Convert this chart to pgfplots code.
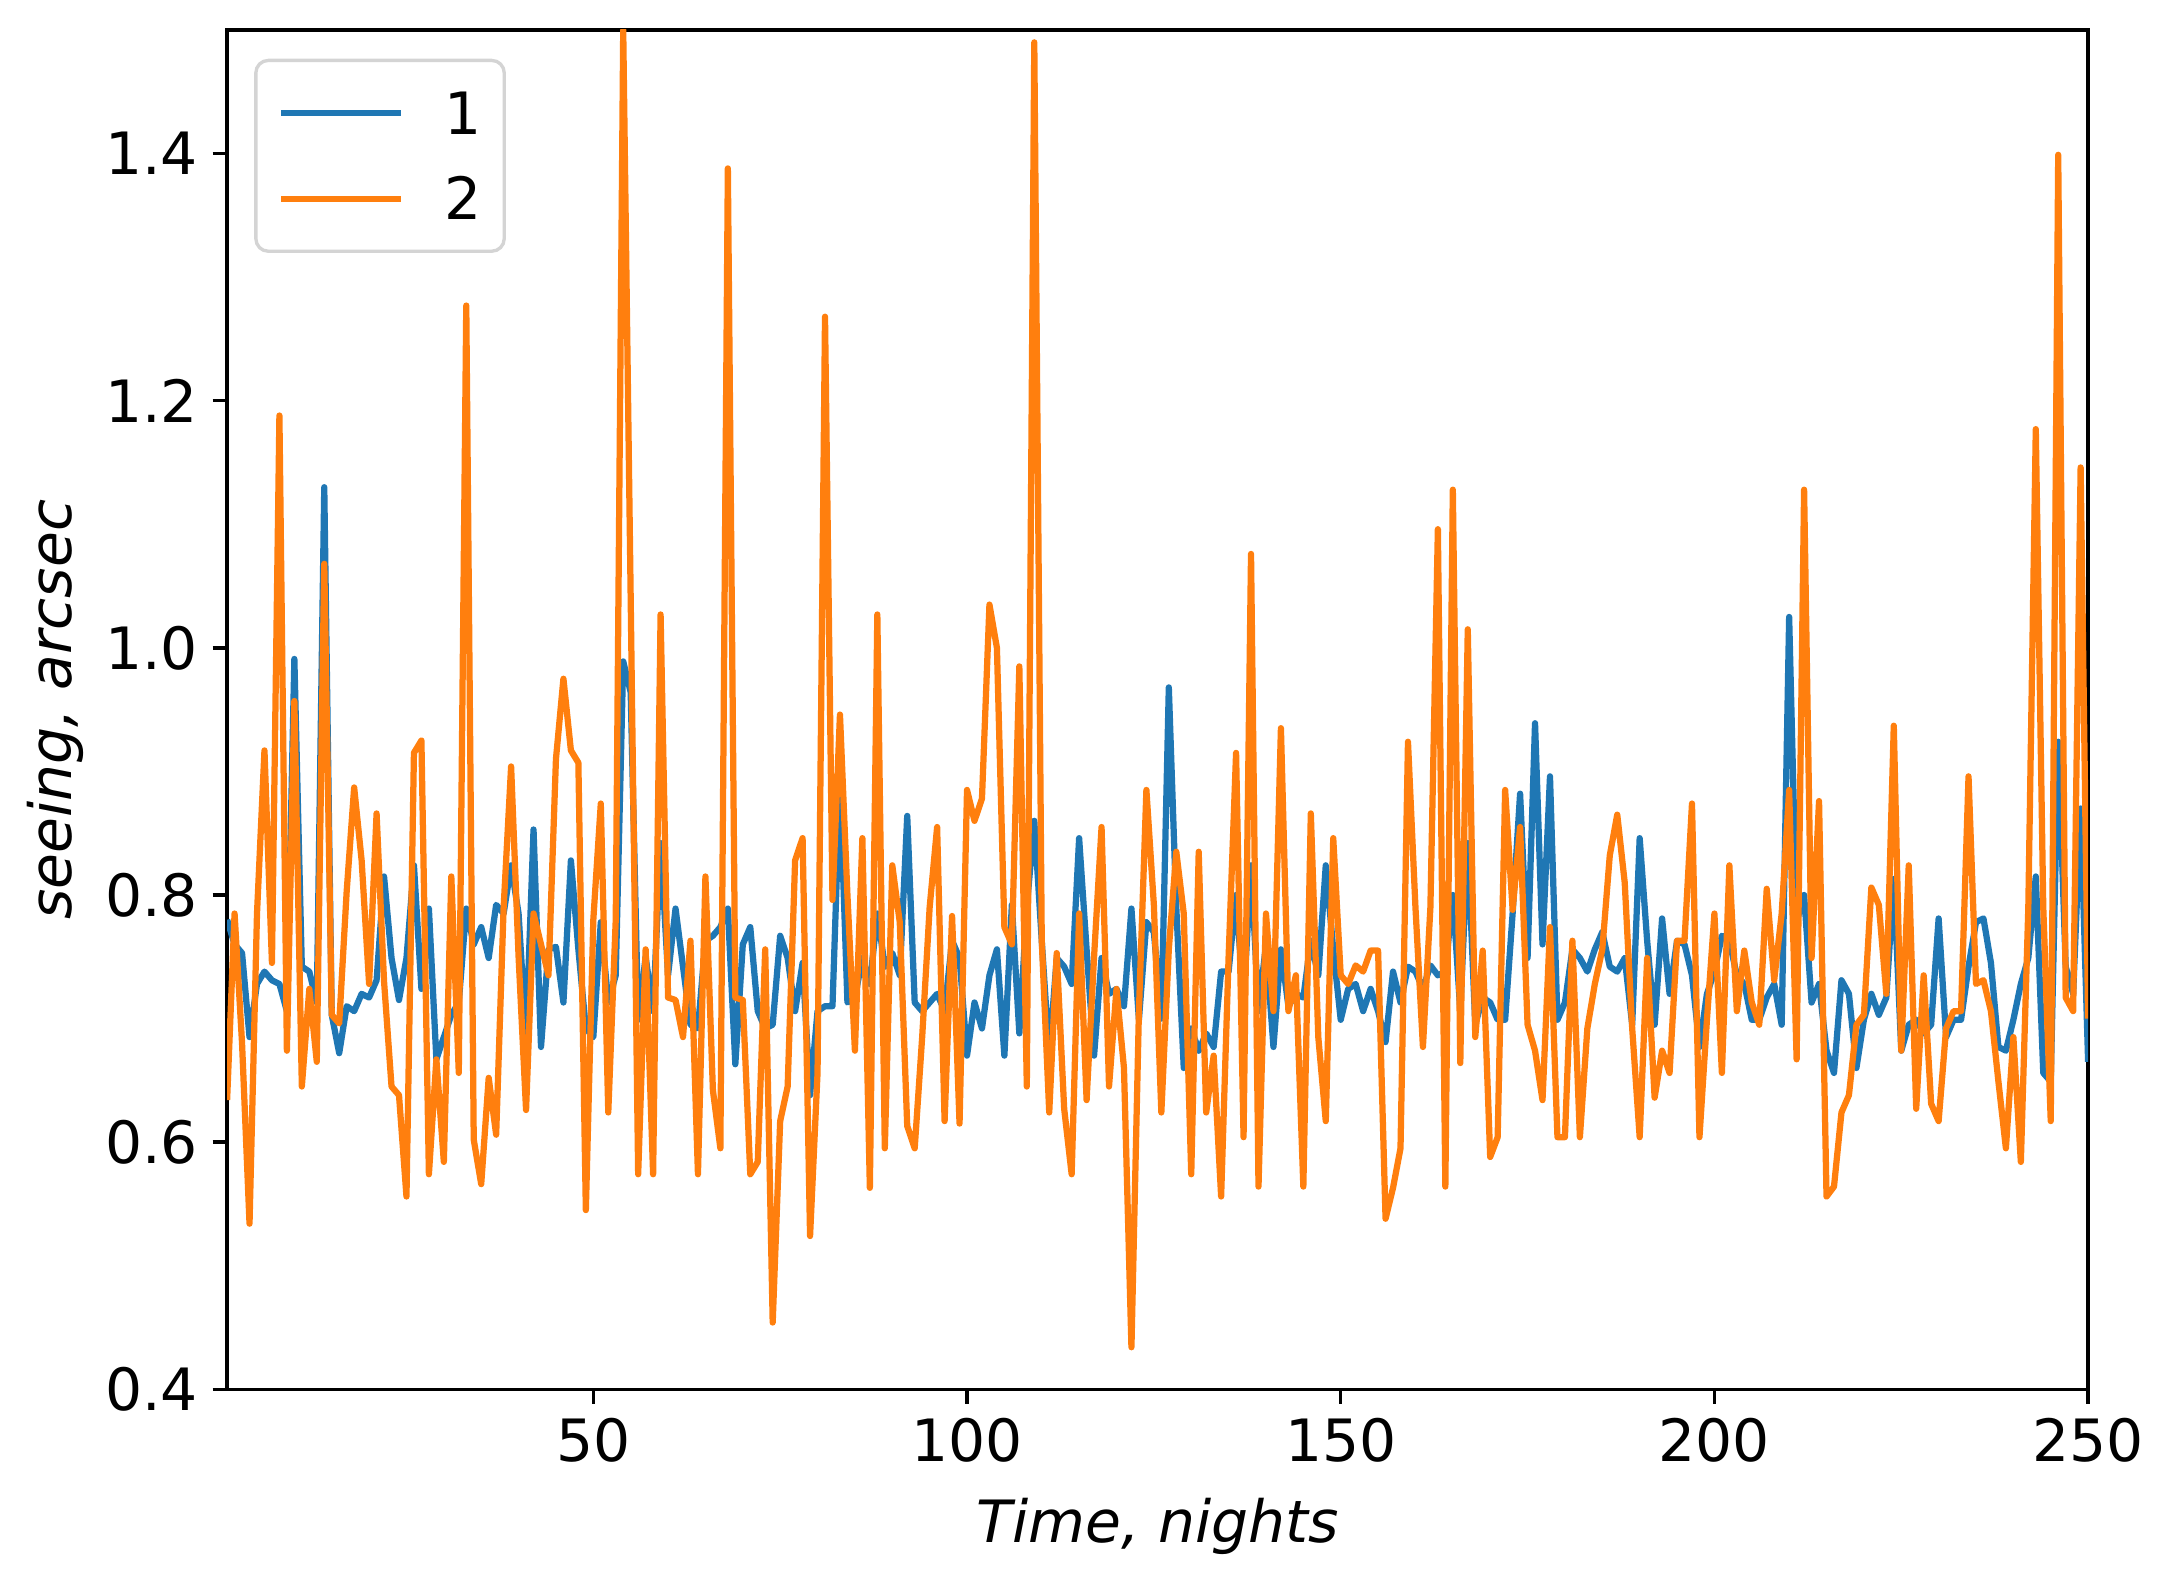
\documentclass[border=0pt]{standalone}
\usepackage{fontspec}
\setmainfont{DejaVu Sans}
\usepackage{pgfplots}
\usepackage{pgfplotstable}
\pgfplotsset{compat=1.18}
\definecolor{mblue}{RGB}{31,119,180}
\definecolor{morange}{RGB}{255,127,14}
\pgfplotstableread{
t b o
1 0.78 0.634
2 0.76 0.785
3 0.753 0.68
4 0.685 0.534
5 0.728 0.785
6 0.738 0.917
7 0.731 0.745
8 0.728 1.188
9 0.706 0.674
10 0.991 0.957
11 0.742 0.645
12 0.738 0.724
13 0.713 0.665
14 1.13 1.068
15 0.703 0.703
16 0.672 0.696
17 0.71 0.803
18 0.706 0.887
19 0.72 0.828
20 0.717 0.728
21 0.731 0.866
22 0.815 0.73
23 0.749 0.645
24 0.715 0.638
25 0.749 0.556
26 0.824 0.915
27 0.724 0.925
28 0.789 0.574
29 0.667 0.667
30 0.685 0.584
31 0.703 0.815
32 0.713 0.656
33 0.789 1.277
34 0.76 0.602
35 0.774 0.566
36 0.749 0.652
37 0.792 0.606
38 0.785 0.79
39 0.824 0.904
40 0.785 0.75
41 0.685 0.626
42 0.853 0.785
43 0.677 0.76
44 0.756 0.735
45 0.758 0.91
46 0.713 0.975
47 0.828 0.917
48 0.756 0.907
49 0.692 0.545
50 0.685 0.78
51 0.778 0.874
52 0.713 0.624
53 0.735 0.78
54 0.989 1.50
55 0.964 1.04
56 0.699 0.574
57 0.75 0.756
58 0.706 0.574
59 0.842 1.027
60 0.735 0.717
61 0.789 0.715
62 0.742 0.685
63 0.695 0.763
64 0.692 0.574
65 0.763 0.815
66 0.767 0.642
67 0.774 0.595
68 0.789 1.388
69 0.663 0.717
70 0.76 0.715
71 0.774 0.574
72 0.706 0.584
73 0.692 0.756
74 0.695 0.454
75 0.767 0.617
76 0.749 0.645
77 0.706 0.828
78 0.745 0.846
79 0.638 0.524
80 0.706 0.656
81 0.71 1.268
82 0.71 0.796
83 0.892 0.946
84 0.713 0.80
85 0.717 0.674
86 0.749 0.846
87 0.728 0.563
88 0.785 1.027
89 0.742 0.595
90 0.753 0.824
91 0.735 0.778
92 0.864 0.613
93 0.713 0.595
94 0.706 0.685
95 0.713 0.79
96 0.72 0.855
97 0.706 0.617
98 0.763 0.783
99 0.749 0.615
100 0.67 0.885
101 0.713 0.86
102 0.692 0.878
103 0.735 1.035
104 0.756 1.0
105 0.67 0.774
106 0.792 0.76
107 0.688 0.985
108 0.79 0.645
109 0.86 1.49
110 0.763 0.763
111 0.67 0.624
112 0.749 0.753
113 0.742 0.627
114 0.728 0.574
115 0.846 0.785
116 0.756 0.634
117 0.67 0.75
118 0.749 0.855
119 0.72 0.645
120 0.724 0.724
121 0.71 0.66
122 0.789 0.434
123 0.699 0.706
124 0.778 0.885
125 0.77 0.792
126 0.70 0.624
127 0.968 0.756
128 0.79 0.835
129 0.66 0.785
130 0.692 0.574
131 0.674 0.835
132 0.688 0.624
133 0.677 0.67
134 0.738 0.556
135 0.738 0.75
136 0.8 0.915
137 0.713 0.604
138 0.824 1.076
139 0.706 0.564
140 0.76 0.785
141 0.677 0.706
142 0.756 0.935
143 0.71 0.706
144 0.72 0.735
145 0.717 0.564
146 0.763 0.866
147 0.735 0.685
148 0.824 0.617
149 0.756 0.846
150 0.699 0.735
151 0.724 0.728
152 0.728 0.743
153 0.706 0.738
154 0.724 0.755
155 0.706 0.755
156 0.681 0.538
157 0.738 0.563
158 0.713 0.595
159 0.742 0.924
160 0.738 0.79
161 0.724 0.677
162 0.743 0.79
163 0.735 1.096
164 0.738 0.564
165 0.8 1.128
166 0.706 0.664
167 0.842 1.015
168 0.695 0.685
169 0.717 0.755
170 0.713 0.588
171 0.699 0.604
172 0.699 0.885
173 0.785 0.788
174 0.882 0.855
175 0.749 0.695
176 0.939 0.674
177 0.76 0.634
178 0.896 0.774
179 0.699 0.604
180 0.713 0.604
181 0.756 0.763
182 0.749 0.604
183 0.738 0.692
184 0.756 0.728
185 0.77 0.756
186 0.742 0.832
187 0.738 0.865
188 0.749 0.81
189 0.695 0.692
190 0.846 0.604
191 0.763 0.749
192 0.695 0.636
193 0.781 0.674
194 0.72 0.656
195 0.763 0.763
196 0.76 0.763
197 0.735 0.874
198 0.677 0.604
199 0.72 0.699
200 0.738 0.785
201 0.767 0.656
202 0.763 0.824
203 0.735 0.706
204 0.728 0.755
205 0.699 0.713
206 0.699 0.695
207 0.717 0.805
208 0.728 0.731
209 0.695 0.785
210 1.025 0.885
211 0.778 0.667
212 0.8 1.128
213 0.713 0.749
214 0.728 0.876
215 0.674 0.556
216 0.656 0.564
217 0.731 0.624
218 0.72 0.638
219 0.66 0.695
220 0.699 0.703
221 0.72 0.806
222 0.703 0.792
223 0.717 0.72
224 0.813 0.937
225 0.674 0.674
226 0.695 0.824
227 0.699 0.627
228 0.688 0.735
229 0.695 0.631
230 0.781 0.617
231 0.685 0.692
232 0.699 0.706
233 0.699 0.706
234 0.742 0.896
235 0.778 0.728
236 0.781 0.731
237 0.745 0.706
238 0.677 0.649
239 0.674 0.595
240 0.699 0.685
241 0.728 0.584
242 0.749 0.79
243 0.815 1.177
244 0.656 0.79
245 0.649 0.617
246 0.924 1.399
247 0.742 0.717
248 0.72 0.706
249 0.87 1.146
250 0.665 0.70
}\datatable
\begin{document}
\begin{tikzpicture}
\useasboundingbox (-54.5pt,-43.4pt) rectangle (464.1pt,333.4pt);
\begin{axis}[
  at={(0,0)}, anchor=south west,
  scale only axis,
  width=446.6pt, height=326.2pt,
  xmin=1, xmax=250, ymin=0.4, ymax=1.5,
  xtick={50,100,150,200,250},
  ytick={0.4,0.6,0.8,1.0,1.2,1.4},
  font=\fontsize{14}{16.8}\selectfont,
  /pgf/number format/assume math mode=true,
  yticklabel style={/pgf/number format/.cd,fixed,fixed zerofill,precision=1},
  xticklabel style={/pgf/number format/.cd,fixed,precision=0},
  scaled ticks=false,
  tick align=outside,
  major tick length=3.5pt,
  tick style={black, line width=0.8pt},
  axis line style={black, line width=0.8pt},
  xtick pos=bottom, ytick pos=left,
  xlabel={\itshape Time, nights},
  ylabel={\itshape seeing, arcsec},
  every axis x label/.style={at={(axis description cs:0.5,0)}, anchor=center, yshift=-33pt},
  every axis y label/.style={at={(axis description cs:0,0.5)}, anchor=center, xshift=-41.3pt, rotate=90},
  legend cell align=left,
  legend image code/.code={\draw[#1] (0pt,0pt) -- (28.8pt,0pt);},
  legend style={at={(axis description cs:0,1)}, anchor=north west,
    xshift=6.5pt, yshift=-6.9pt,
    draw=black!17, line width=0.8pt, rounded corners=3pt, fill=white,
    inner xsep=5.4pt, inner ysep=7.5pt,
    row sep=10.4pt, column sep=0pt,
    nodes={inner sep=0pt, text height=10.2pt, text depth=0pt},
    /tikz/every odd column/.append style={column sep=9.6pt}},
]
\addplot[mblue, line width=1.5pt, line join=round] table[x=t, y=b] {\datatable};
\addlegendentry{1}
\addplot[morange, line width=1.5pt, line join=round] table[x=t, y=o] {\datatable};
\addlegendentry{2}
\end{axis}
\end{tikzpicture}
\end{document}
